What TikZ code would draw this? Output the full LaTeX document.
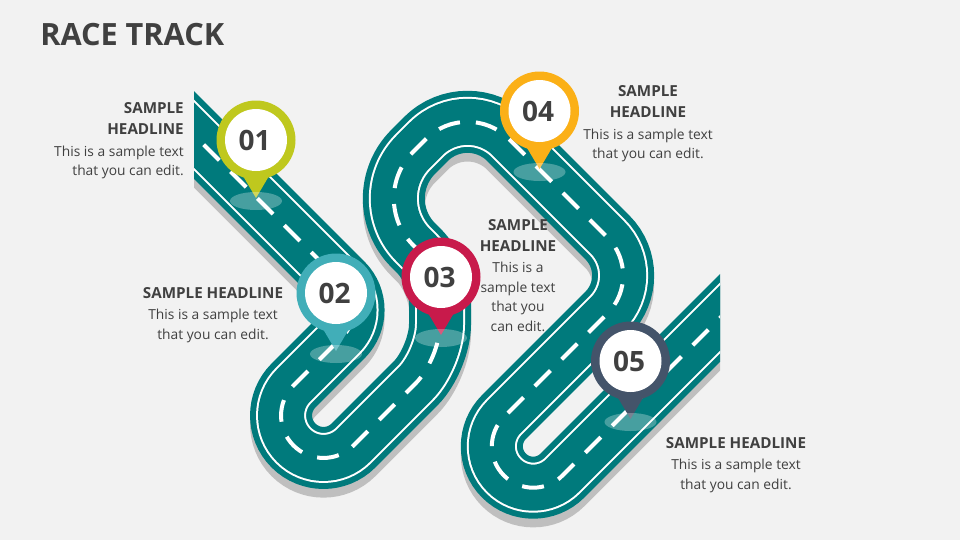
\documentclass[tikz,border=0pt]{standalone}
\usepackage{fontspec}
\setmainfont{Open Sans}
\definecolor{pagebg}{HTML}{F2F2F2}
\definecolor{roadteal}{HTML}{007A7C}
\definecolor{roadshade}{HTML}{BFBFBF}
\definecolor{inkgrey}{HTML}{404040}
\definecolor{pinlime}{HTML}{BFC81E}
\definecolor{pinaqua}{HTML}{41AEB8}
\definecolor{pinred}{HTML}{C81A4B}
\definecolor{pinamber}{HTML}{FBB017}
\definecolor{pinslate}{HTML}{44546A}
\tikzset{
	blurb/.style={text=inkgrey, align=center, inner sep=0pt, font=\fontsize{10.35}{14.8}\selectfont},
	pinnum/.style={inner sep=0pt, text=inkgrey, font=\fontsize{21}{21}\selectfont\bfseries},
}
\newcommand\headtxt[1]{{\fontsize{11.4}{14.8}\selectfont\bfseries #1}}
\def\roadline{(150,91) [rounded corners=28pt] -- (369,310) [rounded corners=31.8pt] -- (263.5,415.5) -- (323.5,475.5) [rounded corners=26pt] -- (440,359) [rounded corners=22pt] -- (440,272) [rounded corners=49.5pt] -- (366.5,198.5) [rounded corners=44pt] -- (467.5,97.5) [rounded corners=40.5pt] -- (645.5,275.5) [rounded corners=31pt] -- (474.7,446.3) -- (533.2,504.8) [sharp corners] -- (760,278)}
\begin{document}
\begin{tikzpicture}[x=0.75pt, y=-0.75pt]
	\fill[pagebg] (0,0) rectangle (960,540);
	\useasboundingbox (0,0) rectangle (960,540);
	\node[text=inkgrey, anchor=west, inner sep=0pt, font=\fontsize{23}{23}\selectfont\bfseries] (title) at (40,34.5) {RACE TRACK};
	\begin{scope}
		\clip (194,0) rectangle (720,540);
		\draw[roadshade, line width=46.5pt, yshift=-6.5pt] \roadline;
		\draw[pagebg, line width=16pt, line cap=round] (532,447) -- (640,339);
		\draw[roadteal, line width=46.5pt] \roadline;
		\draw[white, line width=37.5pt] \roadline;
		\draw[roadteal, line width=34.5pt] \roadline;
		\draw[white, line width=3pt, dash pattern=on 16.5pt off 12pt] \roadline;
	\end{scope}
	\foreach \x/\y/\c/\n in {256/140/pinlime/01, 336/293/pinaqua/02, 441/277/pinred/03, 539.5/111/pinamber/04, 630.5/361/pinslate/05}{
		\begin{scope}[shift={(\x,\y)}]
			\fill[\c] (0,0) circle (39.5);
			\fill[\c] (-13,36) -- (0,58) -- (13,36) -- cycle;
			\fill[white] (0,0) circle (31);
			\node[pinnum] (pin\n) at (-1.5,0) {\n};
			\fill[white, opacity=.28] (0,61) ellipse (26 and 9);
		\end{scope}
	}
	\node[blurb, align=right, anchor=east] (note01) at (184,141) {\headtxt{SAMPLE}\\[1pt]\headtxt{HEADLINE}\\[1pt]This is a sample text\\that you can edit.};
	\node[blurb] (note02) at (213,315) {\headtxt{SAMPLE HEADLINE}\\[1pt]This is a sample text\\that you can edit.};
	\node[blurb] (note03) at (518,275.5) {\headtxt{SAMPLE}\\[1pt]\headtxt{HEADLINE}\\[1pt]This is a\\sample text\\that you\\can edit.};
	\node[blurb] (note04) at (648,124) {\headtxt{SAMPLE}\\[1pt]\headtxt{HEADLINE}\\[1pt]This is a sample text\\that you can edit.};
	\node[blurb] (note05) at (736,465) {\headtxt{SAMPLE HEADLINE}\\[1pt]This is a sample text\\that you can edit.};
\end{tikzpicture}
\end{document}
